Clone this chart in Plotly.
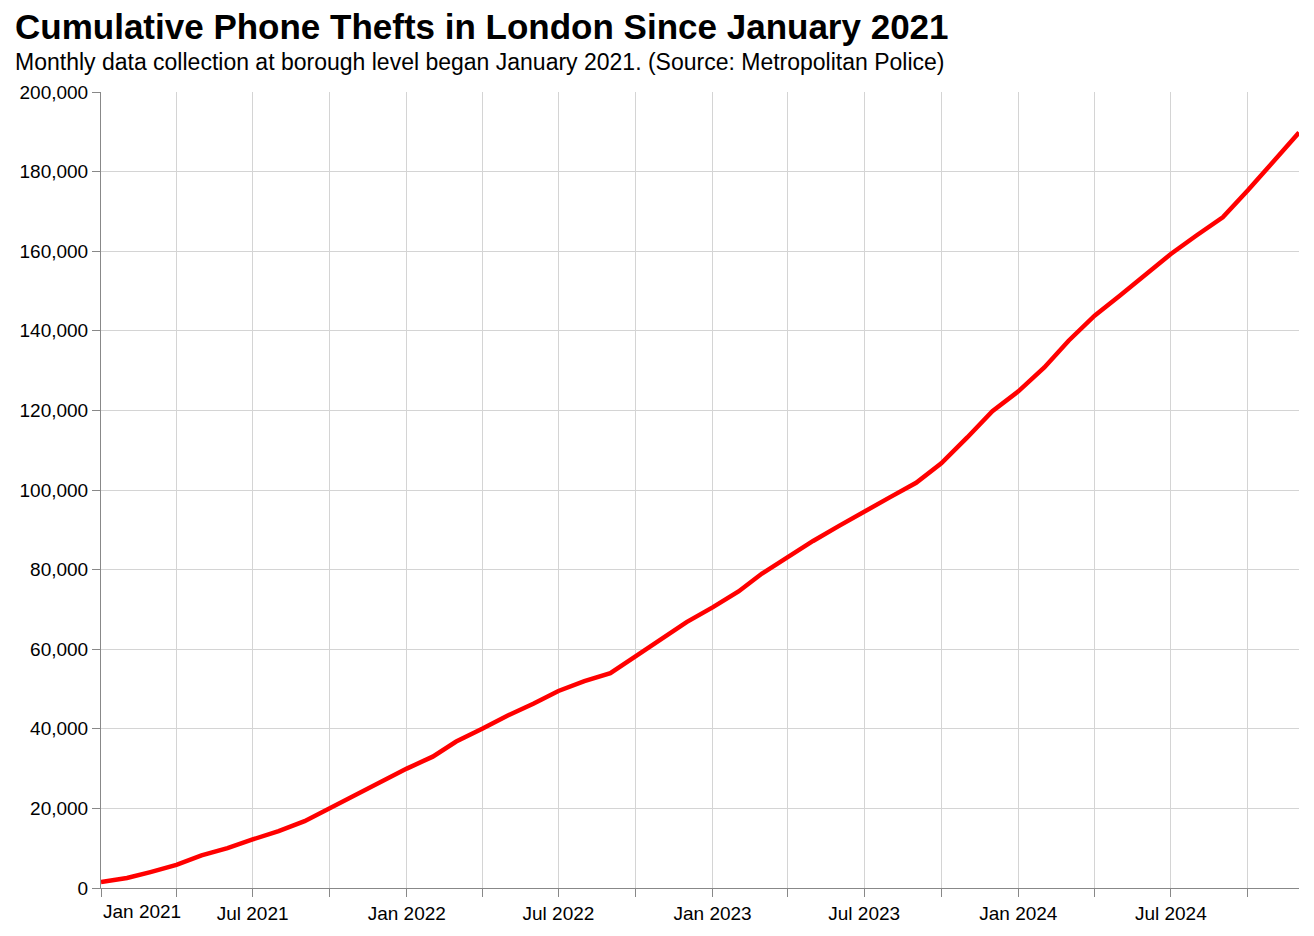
import plotly.graph_objects as go
import pandas as pd

months = pd.date_range("2021-01-01", periods=48, freq="MS")
cumulative = [1500, 2500, 4000, 5800, 8200, 10000, 12200, 14300, 16800, 20000,
              23500, 26800, 30000, 33000, 36800, 40000, 43300, 46300, 49500, 52000,
              54000, 58200, 62500, 66800, 70500, 74500, 79000, 83200, 87200, 91000,
              94700, 98200, 101800, 106700, 113200, 119800, 124800, 130800, 137500, 143800,
              148800, 154000, 159300, 164000, 168500, 175300, 182800, 189800]

tick_dates = pd.date_range("2021-01-01", "2024-10-01", freq="3MS")
tick_text = ["" if d.month in (4, 10) or (d.year == 2021 and d.month == 1) else d.strftime("%b %Y") for d in tick_dates]

fig = go.Figure(go.Scatter(x=months, y=cumulative, mode="lines",
                           line=dict(color="#ff0000", width=4.5), hoverinfo="x+y"))

fig.update_layout(
    width=1307, height=928, plot_bgcolor="white", paper_bgcolor="white",
    margin=dict(l=92, r=16, t=84, b=44),
    font=dict(family="Arial, Liberation Sans", size=19, color="#000"),
    showlegend=False,
    annotations=[
        dict(text="<b>Cumulative Phone Thefts in London Since January 2021</b>", xref="paper", yref="paper",
             x=-88/1199, y=1 + 66/800, xanchor="left", yanchor="middle", showarrow=False,
             font=dict(size=35, family="Arial, Liberation Sans")),
        dict(text="Monthly data collection at borough level began January 2021. (Source: Metropolitan Police)",
             xref="paper", yref="paper", x=-88/1199, y=1 + 30/800, xanchor="left", yanchor="middle",
             showarrow=False, font=dict(size=23)),
        dict(text="Jan 2021", xref="x", yref="paper", x=months[0], y=-24/800, xanchor="left",
             yanchor="middle", showarrow=False, font=dict(size=19)),
    ],
)
fig.update_xaxes(range=[months[0], months[-1]], tickvals=tick_dates, ticktext=tick_text,
                 showgrid=True, gridcolor="#d4d4d4", gridwidth=1, showline=True, linecolor="#888",
                 ticks="outside", ticklen=8, tickcolor="#888", zeroline=False)
fig.update_yaxes(range=[0, 200000], dtick=20000, tickformat=",", showgrid=True, gridcolor="#d4d4d4",
                 showline=True, linecolor="#888", ticks="outside", ticklen=8, tickcolor="#888",
                 zeroline=False)
fig.write_html("out.html")
